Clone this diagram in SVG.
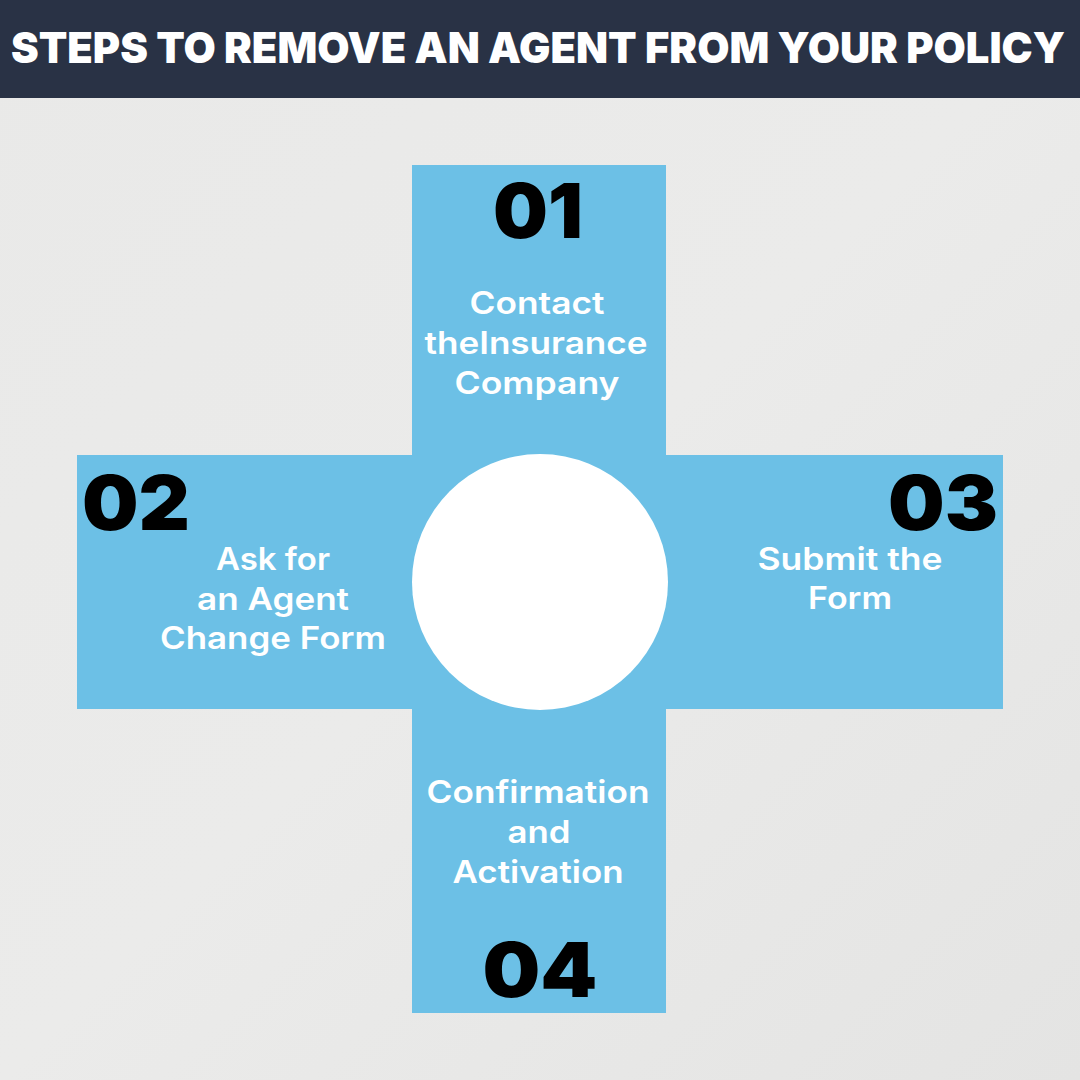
<svg xmlns="http://www.w3.org/2000/svg" width="1080" height="1080" viewBox="0 0 1080 1080">
<defs>
<linearGradient id="bg" x1="0" y1="0" x2="1" y2="1">
<stop offset="0" stop-color="#e9e9e8"/>
<stop offset="0.5" stop-color="#ebebea"/>
<stop offset="1" stop-color="#e4e4e3"/>
</linearGradient>
<style>
.bar{fill:#6cc0e6}
.num{font-family:Inter,"Open Sans",sans-serif;font-weight:900;font-size:76px;fill:#000;text-anchor:middle}
.lbl{font-family:Inter,"Open Sans",sans-serif;font-weight:600;font-size:31px;fill:#fff;text-anchor:middle}
.title{font-family:Inter,"Open Sans",sans-serif;font-weight:900;font-size:43px;fill:#fff}
</style>
</defs>
<rect width="1080" height="1080" fill="url(#bg)"/>
<rect width="1080" height="98" fill="#293245"/>
<text class="title" x="11" y="63" textLength="1054" lengthAdjust="spacingAndGlyphs">STEPS TO REMOVE AN AGENT FROM YOUR POLICY</text>
<g id="cross">
<rect class="bar" x="412" y="165" width="254" height="848"/>
<rect class="bar" x="77" y="455" width="926" height="254"/>
<circle cx="540" cy="582" r="128" fill="#fff"/>
</g>
<g id="step1">
<text class="num" x="538" y="238" textLength="90" lengthAdjust="spacingAndGlyphs">01</text>
<text class="lbl" x="537" y="314" textLength="135" lengthAdjust="spacingAndGlyphs">Contact</text>
<text class="lbl" x="536" y="354" textLength="223" lengthAdjust="spacingAndGlyphs">theInsurance</text>
<text class="lbl" x="537" y="394" textLength="165" lengthAdjust="spacingAndGlyphs">Company</text>
</g>
<g id="step2">
<text class="num" x="136" y="530" textLength="108" lengthAdjust="spacingAndGlyphs">02</text>
<text class="lbl" x="273" y="570" textLength="114" lengthAdjust="spacingAndGlyphs">Ask for</text>
<text class="lbl" x="273" y="610" textLength="152" lengthAdjust="spacingAndGlyphs">an Agent</text>
<text class="lbl" x="273" y="649" textLength="226" lengthAdjust="spacingAndGlyphs">Change Form</text>
</g>
<g id="step3">
<text class="num" x="943" y="530" textLength="110" lengthAdjust="spacingAndGlyphs">03</text>
<text class="lbl" x="850" y="570" textLength="185" lengthAdjust="spacingAndGlyphs">Submit the</text>
<text class="lbl" x="850" y="609" textLength="84" lengthAdjust="spacingAndGlyphs">Form</text>
</g>
<g id="step4">
<text class="lbl" x="538" y="803" textLength="223" lengthAdjust="spacingAndGlyphs">Confirmation</text>
<text class="lbl" x="539" y="843" textLength="63" lengthAdjust="spacingAndGlyphs">and</text>
<text class="lbl" x="538" y="883" textLength="171" lengthAdjust="spacingAndGlyphs">Activation</text>
<text class="num" x="540" y="997" textLength="115" lengthAdjust="spacingAndGlyphs">04</text>
</g>
<g id="connectors"/>
</svg>
